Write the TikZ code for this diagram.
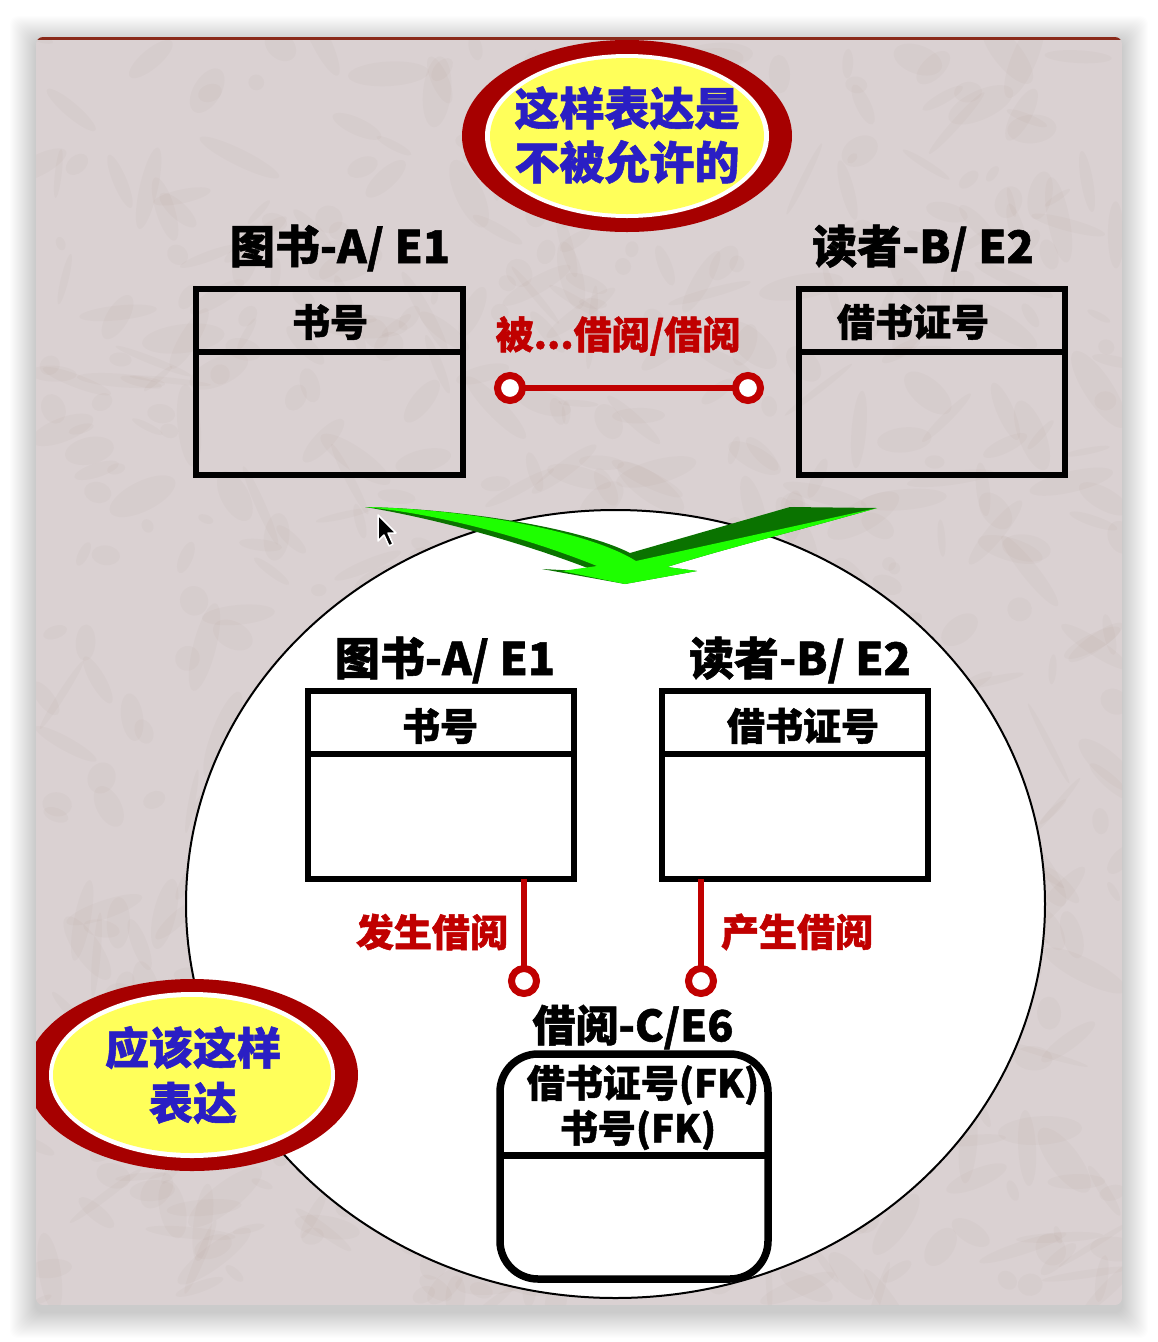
\documentclass[tikz,border=0pt]{standalone}
\usepackage{fontspec}
\setmainfont{Noto Sans CJK SC}[BoldFeatures={FakeBold=1.2}]
\definecolor{slidebg}{HTML}{DAD1D2}
\definecolor{blob}{HTML}{7A5A48}
\definecolor{topred}{HTML}{8A2A1A}
\definecolor{ringred}{HTML}{A60000}
\definecolor{lblred}{HTML}{C00000}
\definecolor{blu}{HTML}{2A1FC4}
\definecolor{yel}{HTML}{FFFF5A}
\definecolor{gbright}{HTML}{1EFF00}
\definecolor{gdark}{HTML}{0A7300}
\tikzset{
  entbox/.style={draw=black, line width=6pt, outer sep=0pt, inner sep=0pt},
  titletxt/.style={font=\fontsize{45}{50}\selectfont\bfseries, text=black, inner sep=0pt},
  attrtxt/.style={font=\fontsize{38}{42}\selectfont\bfseries, text=black, inner sep=0pt},
  reltxt/.style={font=\fontsize{38}{42}\selectfont\bfseries, text=lblred, inner sep=0pt},
  ringnode/.style={circle, draw=lblred, fill=white, line width=7pt, minimum size=25pt, inner sep=0pt, outer sep=0pt},
  relline/.style={draw=lblred, line width=6pt},
  bubtxt/.style={font=\fontsize{45}{54}\selectfont\bfseries, text=blu, align=center, inner sep=0pt}
}
\begin{document}
\begin{tikzpicture}[x=1pt,y=-1pt]
\useasboundingbox (0,0) rectangle (1158,1342);
\fill[white] (0,0) rectangle (1158,1342);
% shadow
\foreach \i in {1,...,26}{
  \fill[black, opacity=0.009, rounded corners=8pt] (36-\i,37-\i+5) rectangle (1122+\i,1305+\i+7);
}
\begin{scope}
\clip[rounded corners=7pt] (36,37) rectangle (1122,1305);
\fill[slidebg] (36,37) rectangle (1122,1305);
\pgfmathsetseed{11}
\foreach \i in {1,...,700}{
  \pgfmathsetmacro\xx{36+rnd*1086}
  \pgfmathsetmacro\yy{37+rnd*1268}
  \pgfmathsetmacro\rx{6+rnd*40}
  \pgfmathsetmacro\ry{3+rnd*12}
  \pgfmathsetmacro\ang{rnd*180}
  \fill[blob, opacity=0.03, rotate around={\ang:(\xx,\yy)}] (\xx,\yy) ellipse [x radius=\rx pt, y radius=\ry pt];
}
\fill[topred] (36,36) rectangle (1122,39.5);

% top bubble
\fill[ringred] (627,136) ellipse [x radius=165pt, y radius=96pt];
\fill[white] (627,136) ellipse [x radius=142pt, y radius=82pt];
\fill[yel] (627,136) ellipse [x radius=137pt, y radius=78pt];
\node[bubtxt] (warn) at (627,135) {这样表达是\\不被允许的};

% top entities
\node[titletxt] (tA) at (340,248) {图书-A/ E1};
\node[entbox, minimum width=267pt, minimum height=186pt] (boxA) at (329.5,382) {};
\draw[line width=6pt] (boxA.west |- 0,352) -- (boxA.east |- 0,352);
\node[attrtxt] (kA) at (330,322) {书号};

\node[titletxt] (tB) at (923,248) {读者-B/ E2};
\node[entbox, minimum width=266pt, minimum height=186pt] (boxB) at (932,382) {};
\draw[line width=6pt] (boxB.west |- 0,352) -- (boxB.east |- 0,352);
\node[attrtxt] (kB) at (913,322) {借书证号};

\node[reltxt] (rtop) at (618,336) {被...借阅/借阅};
\node[ringnode] (r1) at (510,388) {};
\node[ringnode] (r2) at (748,388) {};
\draw[relline] (r1) -- (r2);

% big white ellipse
\draw[fill=white, line width=2pt] (615.5,904) ellipse [x radius=429.5pt, y radius=394pt];

% green chevron
\fill[gdark] (365,507) .. controls (470,509) and (585,530) .. (630,553) -- (790,507) -- (877,508) .. controls (800,530) and (720,550) .. (667,567) -- (697,571) -- (625,584) -- (542,569) -- (598,572) .. controls (540,549) and (450,521) .. (365,507) -- cycle;
\fill[gbright] (365,507) .. controls (470,509) and (590,532) .. (636,561) -- (877,508) .. controls (800,530) and (720,550) .. (667,567) -- (697,571) -- (625,584) -- (562,571) -- (597,566) .. controls (540,543) and (450,515) .. (365,507) -- cycle;

% cursor
\filldraw[fill=black, draw=white, line width=1.5pt, line join=round] (378,515) -- ++(0,26) -- ++(6,-6) -- ++(5,11) -- ++(4,-2) -- ++(-5,-11) -- ++(8,0) -- cycle;

% inner entities
\node[titletxt] (tA2) at (445,660) {图书-A/ E1};
\node[entbox, minimum width=266pt, minimum height=188pt] (boxA2) at (441,785) {};
\draw[line width=6pt] (boxA2.west |- 0,754) -- (boxA2.east |- 0,754);
\node[attrtxt] (kA2) at (440,726) {书号};

\node[titletxt] (tB2) at (800,660) {读者-B/ E2};
\node[entbox, minimum width=266pt, minimum height=188pt] (boxB2) at (795,785) {};
\draw[line width=6pt] (boxB2.west |- 0,754) -- (boxB2.east |- 0,754);
\node[attrtxt] (kB2) at (803,726) {借书证号};

% relation to C
\node[ringnode] (c1) at (524,981) {};
\node[ringnode] (c2) at (701,981) {};
\draw[relline] (c1) -- (c1 |- boxA2.south);
\draw[relline] (c2) -- (c2 |- boxB2.south);
\node[reltxt] (l1) at (432,932) {发生借阅};
\node[reltxt] (l2) at (797,932) {产生借阅};

\node[titletxt, font=\fontsize{43}{48}\selectfont\bfseries] (tC) at (633,1027) {借阅-C/E6};
\node[draw=black, line width=7.5pt, rounded corners=38pt, minimum width=268pt, minimum height=225pt, outer sep=0pt, inner sep=0pt] (boxC) at (634,1166.5) {};
\draw[line width=7pt] (boxC.west |- 0,1155) -- (boxC.east |- 0,1155);
\node[attrtxt] (kC1) at (643,1085) {借书证号(FK)};
\node[attrtxt] (kC2) at (638,1130) {书号(FK)};

% bottom-left bubble
\fill[ringred] (192,1075) ellipse [x radius=166pt, y radius=96pt];
\fill[white] (192,1075) ellipse [x radius=143pt, y radius=83pt];
\fill[yel] (192,1075) ellipse [x radius=139pt, y radius=78pt];
\node[bubtxt, font=\fontsize{44}{55}\selectfont\bfseries] (ok) at (193,1075) {应该这样\\表达};
\end{scope}
\end{tikzpicture}
\end{document}
